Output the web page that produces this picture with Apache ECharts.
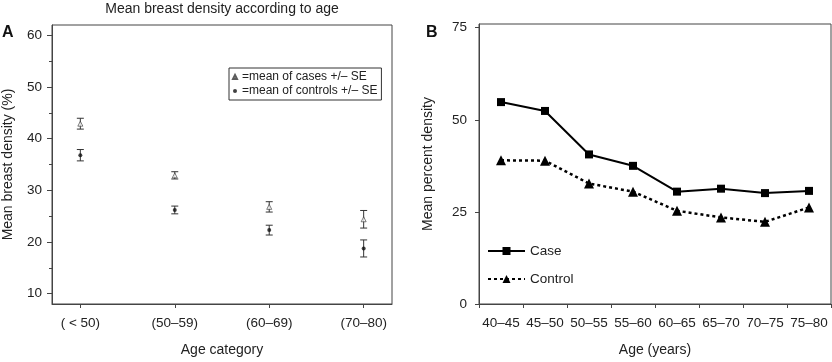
<!DOCTYPE html>
<html>
<head>
<meta charset="utf-8">
<style>
  html, body { margin: 0; padding: 0; background: #fff; }
  #chart { width: 832px; height: 362px; }
</style>
<script src="https://cdn.jsdelivr.net/npm/echarts@6/dist/echarts.min.js"></script>
</head>
<body>
<div id="chart"></div>
<script>
// Panel A: mean density by age category, with SE
const ageGroupsA = ['( < 50)', '(50–59)', '(60–69)', '(70–80)'];
const caseMeanA = [42.9, 32.9, 26.8, 24.4];
const caseSeA = [1.05, 0.7, 1.0, 1.7];
const controlMeanA = [36.8, 26.2, 22.3, 18.75];
const controlSeA = [1.1, 0.75, 0.95, 1.65];
const yTicksA = [10, 20, 30, 40, 50, 60];
const yMinorTicksA = [15, 25, 35, 45, 55];

// Panel B: mean percent density by 5-year age group
const ageGroupsB = ['40–45', '45–50', '50–55', '55–60', '60–65', '65–70', '70–75', '75–80'];
const caseB = [54.8, 52.4, 40.6, 37.5, 30.5, 31.3, 30.1, 30.7];
const controlB = [39.0, 38.9, 32.7, 30.5, 25.3, 23.5, 22.3, 26.2];
const yTicksB = [0, 25, 50, 75];

const FONT = '"Liberation Sans", Arial, Helvetica, sans-serif';
const INK = '#222';
const LINE = '#444';

const chart = echarts.init(document.getElementById('chart'), null, { renderer: 'canvas' });

function errorBarData(means, ses) {
    return means.map((m, i) => [i + 1, m - ses[i], m + ses[i]]);
}

function renderErrorBar(params, api) {
    const x = api.value(0);
    const lo = api.coord([x, api.value(1)]);
    const hi = api.coord([x, api.value(2)]);
    const w = 3.5;
    const style = { stroke: '#333', lineWidth: 1 };
    return {
        type: 'group',
        children: [
            { type: 'line', shape: { x1: lo[0], y1: lo[1], x2: hi[0], y2: hi[1] }, style },
            { type: 'line', shape: { x1: lo[0] - w, y1: lo[1], x2: lo[0] + w, y2: lo[1] }, style },
            { type: 'line', shape: { x1: hi[0] - w, y1: hi[1], x2: hi[0] + w, y2: hi[1] }, style }
        ]
    };
}

const axisLabelStyle = { color: INK, fontSize: 13.5, fontFamily: FONT };

const option = {
    backgroundColor: '#fff',
    animation: false,
    textStyle: { fontFamily: FONT, color: INK },
    graphic: [
        { type: 'text', x: 222, y: 9, style: { text: 'Mean breast density according to age', fontSize: 14, fontFamily: FONT, fill: INK, textAlign: 'center', textVerticalAlign: 'middle' } },
        { type: 'text', x: 2, y: 33, style: { text: 'A', fontSize: 16, fontWeight: 'bold', fontFamily: FONT, fill: '#111', textVerticalAlign: 'middle' } },
        { type: 'text', x: 426, y: 33, style: { text: 'B', fontSize: 16, fontWeight: 'bold', fontFamily: FONT, fill: '#111', textVerticalAlign: 'middle' } }
    ],
    legend: [
        {
            data: ['=mean of cases +/– SE', '=mean of controls +/– SE'],
            orient: 'vertical',
            left: 229,
            top: 68,
            padding: [3, 4, 3, 3],
            itemGap: 2,
            itemWidth: 4,
            itemHeight: 4,
            borderColor: '#333',
            borderWidth: 1,
            textStyle: { fontSize: 12, color: INK, fontFamily: FONT }
        },
        {
            data: ['Case', 'Control'],
            orient: 'vertical',
            left: 487,
            top: 244,
            padding: 0,
            itemGap: 14,
            itemWidth: 37,
            itemHeight: 10,
            textStyle: { fontSize: 13.5, color: INK, fontFamily: FONT }
        }
    ],
    grid: [
        { left: 52, top: 25, width: 340, height: 283, show: true, borderColor: LINE, borderWidth: 1 },
        { left: 479, top: 24, width: 352, height: 284, show: true, borderColor: LINE, borderWidth: 1 }
    ],
    xAxis: [
        {
            gridIndex: 0,
            type: 'value',
            min: 0.7,
            max: 4.3,
            name: 'Age category',
            nameLocation: 'middle',
            nameGap: 39,
            nameTextStyle: { fontSize: 14, color: INK, fontFamily: FONT },
            axisLine: { lineStyle: { color: LINE } },
            axisTick: { show: true, length: 4, lineStyle: { color: LINE }, customValues: [1, 2, 3, 4] },
            axisLabel: Object.assign({ margin: 12, customValues: [1, 2, 3, 4], formatter: v => ageGroupsA[Math.round(v) - 1] }, axisLabelStyle),
            splitLine: { show: false }
        },
        {
            gridIndex: 1,
            type: 'category',
            data: ageGroupsB,
            boundaryGap: true,
            name: 'Age (years)',
            nameLocation: 'middle',
            nameGap: 39,
            nameTextStyle: { fontSize: 14, color: INK, fontFamily: FONT },
            axisLine: { lineStyle: { color: LINE } },
            axisTick: { show: true, length: 4, lineStyle: { color: LINE } },
            axisLabel: Object.assign({ margin: 12, interval: 0 }, axisLabelStyle),
            splitLine: { show: false }
        }
    ],
    yAxis: [
        {
            gridIndex: 0,
            type: 'value',
            min: 8,
            max: 62,
            name: 'Mean breast density (%)',
            nameLocation: 'middle',
            nameGap: 37,
            nameTextStyle: { fontSize: 14, color: INK, fontFamily: FONT },
            axisLine: { show: true, lineStyle: { color: LINE } },
            axisTick: { show: true, length: 5, lineStyle: { color: LINE }, customValues: yTicksA },
            axisLabel: Object.assign({ margin: 10, customValues: yTicksA }, axisLabelStyle),
            splitLine: { show: false }
        },
        {
            gridIndex: 0,
            type: 'value',
            min: 8,
            max: 62,
            position: 'left',
            axisLine: { show: false },
            axisTick: { show: true, length: 3, lineStyle: { color: LINE }, customValues: yMinorTicksA },
            axisLabel: { show: false },
            splitLine: { show: false }
        },
        {
            gridIndex: 1,
            type: 'value',
            min: 0,
            max: 76,
            name: 'Mean percent density',
            nameLocation: 'middle',
            nameGap: 44,
            nameTextStyle: { fontSize: 14, color: INK, fontFamily: FONT },
            axisLine: { show: true, lineStyle: { color: LINE } },
            axisTick: { show: true, length: 4, lineStyle: { color: LINE }, customValues: yTicksB },
            axisLabel: Object.assign({ margin: 12, customValues: yTicksB }, axisLabelStyle),
            splitLine: { show: false }
        }
    ],
    series: [
        {
            name: 'cases SE',
            type: 'custom',
            xAxisIndex: 0,
            yAxisIndex: 0,
            renderItem: renderErrorBar,
            data: errorBarData(caseMeanA, caseSeA),
            z: 2
        },
        {
            name: 'controls SE',
            type: 'custom',
            xAxisIndex: 0,
            yAxisIndex: 0,
            renderItem: renderErrorBar,
            data: errorBarData(controlMeanA, controlSeA),
            z: 2
        },
        {
            name: '=mean of cases +/– SE',
            type: 'scatter',
            xAxisIndex: 0,
            yAxisIndex: 0,
            symbol: 'triangle',
            symbolSize: 5,
            itemStyle: { color: '#fff', borderColor: '#333', borderWidth: 0.8 },
            data: caseMeanA.map((v, i) => [i + 1, v]),
            z: 3
        },
        {
            name: '=mean of controls +/– SE',
            type: 'scatter',
            xAxisIndex: 0,
            yAxisIndex: 0,
            symbol: 'circle',
            symbolSize: 4,
            itemStyle: { color: '#111' },
            data: controlMeanA.map((v, i) => [i + 1, v]),
            z: 3
        },
        {
            name: 'Case',
            type: 'line',
            xAxisIndex: 1,
            yAxisIndex: 2,
            data: caseB,
            symbol: 'rect',
            symbolSize: 8,
            lineStyle: { color: '#000', width: 2 },
            itemStyle: { color: '#000' }
        },
        {
            name: 'Control',
            type: 'line',
            xAxisIndex: 1,
            yAxisIndex: 2,
            data: controlB,
            symbol: 'triangle',
            symbolSize: 10,
            lineStyle: { color: '#000', width: 2.5, type: [3, 3] },
            itemStyle: { color: '#000' }
        }
    ]
};

chart.setOption(option);
window.addEventListener('resize', () => chart.resize());
</script>
</body>
</html>
